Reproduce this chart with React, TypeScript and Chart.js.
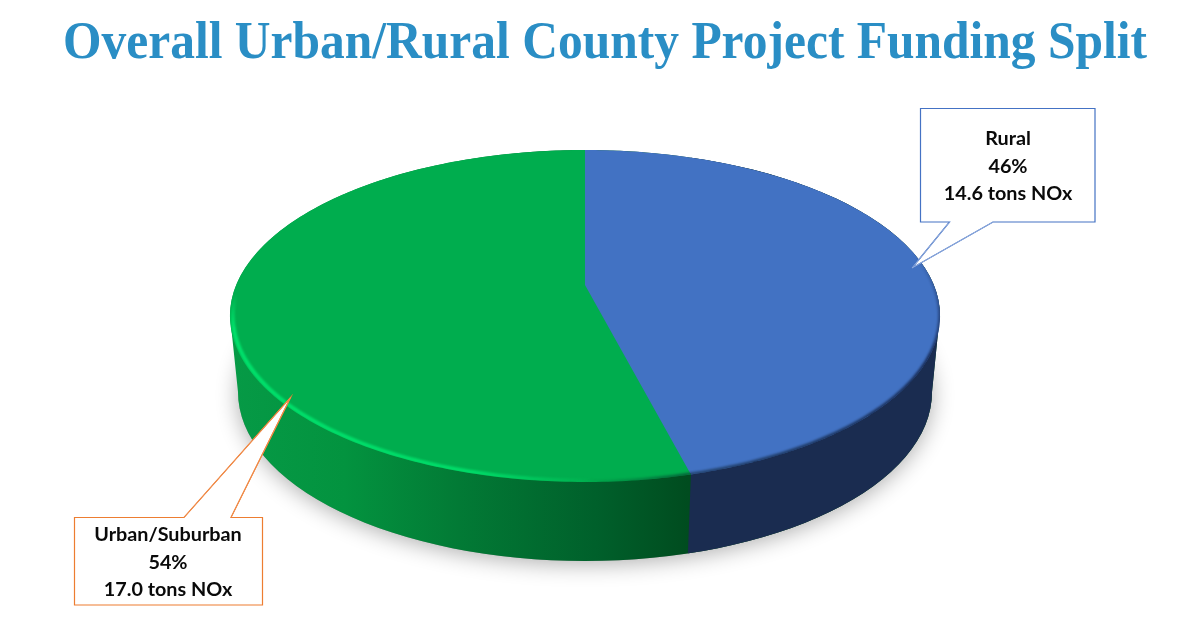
import React, { useEffect, useRef } from "react";
import { Chart, registerables } from "chart.js";

Chart.register(...registerables);

const titleText = "Overall Urban/Rural County Project Funding Split";
const categories = ["Rural", "Urban/Suburban"];
const sharePercent = [46, 54];
const tonsNOx = ["14.6", "17.0"];
const topColors = ["#4272C3", "#00AD4E"];

// Projection of the disc (perspective view)
const CX = 585;
const APEX_Y = 285;
const TOP_CY = 316;
const TOP_RX = 355;
const TOP_RY = 166;
const P = -0.1867;
const SCALE_B = 107;
const SCALE_A = 348.8;
const BOT_CY = 392;
const BOT_RX = 347;
const BOT_RY = 169;
const TITLE_CX = 605;
const TITLE_SQUEEZE = 0.934;

function project(angle: number) {
  const x = Math.cos(angle);
  const y = Math.sin(angle);
  const w = 1 + P * y;
  return { x: CX + (SCALE_A * x) / w, y: (SCALE_B * y + APEX_Y) / w };
}

function silhouette(ctx: CanvasRenderingContext2D) {
  ctx.beginPath();
  ctx.moveTo(CX - BOT_RX, BOT_CY);
  ctx.ellipse(CX, BOT_CY, BOT_RX, BOT_RY, 0, Math.PI, 0, true);
  ctx.lineTo(CX + TOP_RX - 0.5, TOP_CY + 2);
  ctx.ellipse(CX, TOP_CY, TOP_RX, TOP_RY, 0, 0, Math.PI, true);
  ctx.closePath();
}

function wedgePath(ctx: CanvasRenderingContext2D, a0: number, a1: number) {
  ctx.beginPath();
  ctx.moveTo(CX, APEX_Y);
  const n = 240;
  for (let i = 0; i <= n; i++) {
    const p = project(a0 + ((a1 - a0) * i) / n);
    ctx.lineTo(p.x, p.y);
  }
  ctx.closePath();
}

function rimPath(ctx: CanvasRenderingContext2D, inset = 0) {
  ctx.beginPath();
  const n = 360;
  const k = 1 - inset;
  for (let i = 0; i <= n; i++) {
    const p = project((Math.PI * 2 * i) / n);
    const x = CX + (p.x - CX) * k;
    const y = TOP_CY + (p.y - TOP_CY) * k;
    if (i === 0) ctx.moveTo(x, y);
    else ctx.lineTo(x, y);
  }
  ctx.closePath();
}

function callout(
  ctx: CanvasRenderingContext2D,
  box: number[],
  tail: number[],
  tip: number[],
  color: string,
  tailColor: string,
  lines: string[],
  textX: number,
  textY: number[]
) {
  const [l, t, r, b] = box;
  const below = tip[1] > b;
  const edge = below ? b : t;
  ctx.save();
  ctx.beginPath();
  ctx.moveTo(l, t);
  if (!below) {
    ctx.lineTo(tail[0], t);
    ctx.lineTo(tip[0], tip[1]);
    ctx.lineTo(tail[1], t);
  }
  ctx.lineTo(r, t);
  ctx.lineTo(r, b);
  if (below) {
    ctx.lineTo(tail[1], b);
    ctx.lineTo(tip[0], tip[1]);
    ctx.lineTo(tail[0], b);
  }
  ctx.lineTo(l, b);
  ctx.closePath();
  ctx.fillStyle = "#FFFFFF";
  ctx.fill();
  ctx.strokeStyle = color;
  ctx.lineWidth = 1.2;
  ctx.stroke();
  ctx.beginPath();
  ctx.moveTo(tail[0], edge);
  ctx.lineTo(tip[0], tip[1]);
  ctx.lineTo(tail[1], edge);
  ctx.strokeStyle = tailColor;
  ctx.lineWidth = 1;
  ctx.stroke();
  ctx.fillStyle = "#0A0A0A";
  ctx.font = "bold 19.8px Lato, 'Open Sans', sans-serif";
  ctx.textAlign = "center";
  ctx.textBaseline = "middle";
  lines.forEach((s, i) => ctx.fillText(s, textX, textY[i]));
  ctx.restore();
}

const pie3d = {
  id: "pie3d",
  beforeDraw(chart: any) {
    const ctx = chart.ctx;
    ctx.save();
    ctx.translate(TITLE_CX, 0);
    ctx.scale(TITLE_SQUEEZE, 1);
    ctx.translate(-TITLE_CX, 0);
  },
  beforeDatasetsDraw(chart: any) {
    const ctx: CanvasRenderingContext2D = chart.ctx;
    ctx.restore();
    const arcs = chart.getDatasetMeta(0).data;
    const split = project(arcs[0].endAngle);
    const botX = split.x - 3;
    const botY = BOT_CY + BOT_RY * Math.sqrt(1 - ((botX - CX) / BOT_RX) ** 2);

    // soft ground shadow
    ctx.save();
    ctx.shadowColor = "rgba(0,0,0,0.32)";
    ctx.shadowBlur = 22;
    ctx.shadowOffsetY = 3;
    ctx.fillStyle = "#999";
    ctx.beginPath();
    ctx.ellipse(CX, BOT_CY, BOT_RX, BOT_RY, 0, 0, Math.PI * 2);
    ctx.fill();
    ctx.restore();

    // side wall: urban part
    const g = ctx.createLinearGradient(230, 0, botX, 0);
    g.addColorStop(0, "#069A46");
    g.addColorStop(0.25, "#03933F");
    g.addColorStop(0.5, "#027A35");
    g.addColorStop(0.8, "#00602B");
    g.addColorStop(1, "#004C1F");
    silhouette(ctx);
    ctx.fillStyle = g;
    ctx.fill();

    // side wall: rural part
    ctx.save();
    ctx.beginPath();
    ctx.moveTo(split.x, 0);
    ctx.lineTo(split.x, split.y);
    ctx.lineTo(botX, botY);
    ctx.lineTo(botX, 700);
    ctx.lineTo(1300, 700);
    ctx.lineTo(1300, 0);
    ctx.closePath();
    ctx.clip();
    silhouette(ctx);
    ctx.fillStyle = "#1A2C50";
    ctx.fill();
    ctx.restore();

    // library arcs mapped onto the top ellipse
    const a = arcs[0];
    ctx.save();
    ctx.translate(CX, TOP_CY);
    ctx.scale((TOP_RX - 1) / a.outerRadius, (TOP_RY - 1) / a.outerRadius);
    ctx.translate(-a.x, -a.y);
  },
  afterDatasetsDraw(chart: any) {
    const ctx: CanvasRenderingContext2D = chart.ctx;
    ctx.restore();
    const arcs = chart.getDatasetMeta(0).data;

    // perspective correction of the wedges
    arcs.forEach((arc: any, i: number) => {
      wedgePath(ctx, arc.startAngle, arc.endAngle);
      ctx.fillStyle = topColors[i];
      ctx.fill();
    });

    // bevel on the rim (angles measured clockwise from the top)
    const from = -Math.PI / 2;
    ctx.save();
    rimPath(ctx);
    ctx.clip();
    const rim = (lw: number, style: any, blur: number, inset: number) => {
      ctx.save();
      ctx.filter = `blur(${blur}px)`;
      rimPath(ctx, inset);
      ctx.lineWidth = lw;
      ctx.strokeStyle = style;
      ctx.stroke();
      ctx.restore();
    };
    const light = (ctx as any).createConicGradient(from, CX, TOP_CY);
    light.addColorStop(0.49, "rgba(0,226,108,0)");
    light.addColorStop(0.6, "rgba(0,226,108,0.9)");
    light.addColorStop(0.745, "rgba(0,226,108,1)");
    light.addColorStop(0.76, "rgba(0,226,108,0)");
    rim(4, light, 1, 0.008);
    const dark = (ctx as any).createConicGradient(from, CX, TOP_CY);
    dark.addColorStop(0.22, "rgba(10,20,50,0)");
    dark.addColorStop(0.27, "rgba(10,20,50,0.7)");
    dark.addColorStop(0.41, "rgba(10,30,40,0.5)");
    dark.addColorStop(0.5, "rgba(0,60,30,0)");
    rim(4, dark, 1, 0);
    ctx.restore();

    // callouts
    const label = (i: number) => [
      categories[i],
      `${sharePercent[i]}%`,
      `${tonsNOx[i]} tons NOx`,
    ];
    callout(ctx, [920.5, 108.5, 1095, 222], [949.5, 993], [912, 268], "#4472C4", "#8FAADC", label(0), 1008, [139, 166.5, 194]);
    callout(ctx, [74.5, 517.5, 262.5, 605], [184, 231], [290.7, 397.3], "#ED7D31", "#F08C4C", label(1), 168, [535, 562.5, 590]);
  },
};

export default function App() {
  const ref = useRef<HTMLCanvasElement | null>(null);
  useEffect(() => {
    document.body.style.margin = "0";
    const chart = new Chart(ref.current as HTMLCanvasElement, {
      type: "pie",
      data: {
        labels: categories,
        datasets: [{ data: sharePercent, backgroundColor: topColors, borderWidth: 0 }],
      },
      options: {
        responsive: false,
        animation: false,
        layout: { padding: { left: 10 } },
        plugins: {
          legend: { display: false },
          tooltip: { enabled: false },
          title: {
            display: true,
            text: titleText,
            fullSize: false,
            color: "#2A8EC5",
            font: { family: "'Liberation Serif'", size: 53, weight: "bold" },
            padding: { top: 13, bottom: 10 },
          },
        },
      },
      plugins: [pie3d],
    } as any);
    return () => chart.destroy();
  }, []);
  return (
    <div style={{ width: 1200, height: 644, overflow: "hidden", background: "#fff" }}>
      <canvas ref={ref} width={1200} height={644} style={{ display: "block" }} />
    </div>
  );
}
